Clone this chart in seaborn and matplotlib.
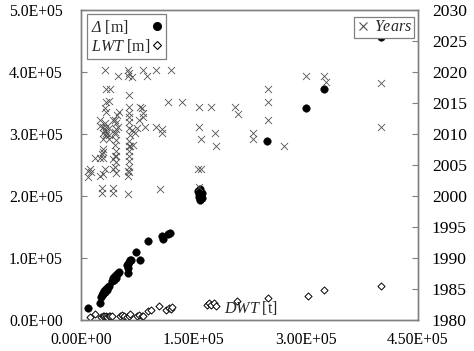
import numpy as np
import pandas as pd
import matplotlib
matplotlib.use("Agg")
import matplotlib.pyplot as plt
from matplotlib.ticker import FuncFormatter, MultipleLocator
from matplotlib.lines import Line2D
import seaborn as sns

# ---- data (DWT in thousands of tonnes) ----
delta_dwt_k = [9.4, 25, 27, 28, 29, 29, 31, 32, 32, 33, 35, 35, 36, 37,
               41, 43, 44, 44, 45, 47, 47, 48, 49, 51,
               61, 63, 63, 63, 64, 65, 67, 73, 79, 90, 108, 110, 116, 119,
               156, 157, 158, 159, 160, 161, 162, 159,
               249, 300, 325, 400]
delta_k = [19.5, 27.6, 37, 41, 44, 42, 47, 49, 45, 50, 52, 49, 54, 55,
           63, 67, 70, 65, 71, 73, 68, 75, 76, 78,
           88, 91, 84, 76, 94, 96, 97, 110, 96, 128, 135, 131, 138, 141,
           208, 203, 198, 193, 200, 205, 196, 212,
           288, 342, 373, 456]

lwt_dwt_k = [12, 19, 27, 29, 31, 33, 35, 37, 39, 41,
             52, 55, 58, 61, 64, 66, 75, 78, 81, 83,
             90, 94, 104, 114, 117, 120, 122,
             168, 171, 174, 177, 180, 208, 250, 303, 325, 400]
lwt_k = [5, 10, 5, 6, 7, 6, 5, 7, 6, 6,
         6, 8, 7, 5, 7, 9, 6, 8, 7, 6,
         14, 16, 23, 16, 20, 18, 21,
         25, 28, 24, 27, 22, 30, 36, 38, 48, 55]

years_dwt_k = [
    32, 49, 63, 64, 63, 68, 83, 88, 100, 120,
    34, 39, 64, 34, 37, 116, 135,
    158, 174, 206, 210, 230, 230,
    250, 250, 250, 271, 300, 325, 327, 400, 401,
    32, 33, 64, 64, 64, 79, 81, 83, 83, 48, 51,
    25, 25, 43, 45, 78,
    32, 30, 34, 37, 32, 29, 34, 33, 30, 38, 38,
    46, 50,
    47, 47, 46, 47, 46, 47, 46, 47, 46, 47,
    64, 64, 65, 64, 64, 64, 64, 64, 64, 64, 65,
    75, 86, 100, 108, 108, 68, 72,
    158, 160, 179, 180, 69,
    29, 28, 19, 25, 43, 47, 29, 29,
    12, 14, 32, 30, 25, 10, 43, 63, 63, 10,
    28, 28, 43, 43, 63, 105, 156, 160, 157]
years = [
    2020.3, 2019.3, 2020.3, 2019.8, 2019.3, 2019.2, 2020.3, 2019.3, 2020.3, 2020.3,
    2017.2, 2017.2, 2016.3, 2015.2, 2015.3, 2015.2, 2015.2,
    2014.3, 2014.3, 2014.3, 2013.3, 2010.2, 2009.2,
    2017.2, 2015.2, 2012.2, 2008.1, 2019.3, 2019.3, 2018.4, 2018.2, 2011.2,
    2014.2, 2013.6, 2014.3, 2013.4, 2012.7, 2014.3, 2014.2, 2013.4, 2012.7, 2013.1, 2013.6,
    2012.2, 2011.3, 2012.2, 2012.2, 2012.2,
    2011.7, 2011.2, 2011.2, 2011.0, 2010.7, 2010.2, 2010.2, 2009.8, 2009.2, 2009.9, 2009.2,
    2010.3, 2011.2,
    2011.7, 2010.8, 2010.0, 2009.1, 2008.2, 2007.3, 2006.5, 2005.5, 2004.7, 2003.7,
    2011.9, 2010.9, 2009.8, 2008.9, 2008.0, 2007.2, 2006.4, 2005.6, 2004.7, 2003.9, 2008.1,
    2010.9, 2011.2, 2011.2, 2010.8, 2010.2, 2010.7, 2010.2,
    2011.2, 2009.2, 2010.2, 2008.1, 2008.2,
    2007.6, 2006.8, 2006.2, 2006.2, 2006.0, 2006.5, 2007.1, 2006.2,
    2004.4, 2003.9, 2004.4, 2003.6, 2003.3, 2003.0, 2004.4, 2004.1, 2003.2, 2004.1,
    2001.3, 2000.5, 2001.3, 2000.5, 2000.3, 2001.2, 2004.3, 2004.3, 2001.5]

# ---- style ----
sns.set_theme(style="white")
plt.rcParams["font.family"] = ["Liberation Serif", "DejaVu Serif"]
plt.rcParams["mathtext.fontset"] = "custom"
plt.rcParams["mathtext.rm"] = "Liberation Serif:italic"
plt.rcParams["mathtext.it"] = "Liberation Serif:italic"
plt.rcParams["axes.unicode_minus"] = False

GRAY = "#808080"
XCOL = "#505050"

df_delta = pd.DataFrame({"dwt": np.array(delta_dwt_k) * 1000, "v": np.array(delta_k) * 1000})
df_lwt = pd.DataFrame({"dwt": np.array(lwt_dwt_k) * 1000, "v": np.array(lwt_k) * 1000})
df_year = pd.DataFrame({"dwt": np.array(years_dwt_k) * 1000, "year": years})

fig = plt.figure(figsize=(4.74, 3.51), dpi=100)
ax = fig.add_axes([81 / 474, 1 - 320 / 351, 337 / 474, 310 / 351])
ax2 = ax.twinx()

sns.scatterplot(data=df_year, x="dwt", y="year", ax=ax2, marker="x",
                color=XCOL, s=26, linewidth=0.6, zorder=2)
sns.scatterplot(data=df_lwt, x="dwt", y="v", ax=ax, marker="D",
                color="white", edgecolor="black", s=13, linewidth=0.7, zorder=3)
sns.scatterplot(data=df_delta, x="dwt", y="v", ax=ax, marker="o",
                color="black", edgecolor="black", s=30, linewidth=0.3, zorder=3)

ax.set_xlim(0, 4.5e5)
ax.set_ylim(0, 5e5)
ax2.set_ylim(1980, 2030)
ax.set_xlabel("")
ax.set_ylabel("")
ax2.set_ylabel("")

ax.xaxis.set_major_locator(MultipleLocator(1.5e5))
ax.yaxis.set_major_locator(MultipleLocator(1e5))
ax2.yaxis.set_major_locator(MultipleLocator(5))
ax.xaxis.set_major_formatter(FuncFormatter(lambda v, p: f"{v:.2E}"))
ax.yaxis.set_major_formatter(FuncFormatter(lambda v, p: f"{v:.1E}"))
ax2.yaxis.set_major_formatter(FuncFormatter(lambda v, p: f"{int(round(v))}"))

ax.tick_params(axis="x", direction="in", length=4, width=0.8, color=GRAY,
               labelsize=11.3, pad=9, labelcolor="black")
ax.tick_params(axis="y", direction="in", length=4, width=0.8, color=GRAY,
               labelsize=11.3, pad=13, labelcolor="black", right=False)
ax2.tick_params(axis="y", direction="in", length=4, width=0.8, color=GRAY,
                labelsize=12.6, pad=10, labelcolor="black")

for a in (ax, ax2):
    for sp in a.spines.values():
        sp.set_visible(True)
        sp.set_color(GRAY)
        sp.set_linewidth(1.0)
    a.grid(False)

ax.text(0.505, 0.04, r"$DWT$ [t]", transform=ax.transAxes, ha="center",
        va="center", fontsize=11.5, zorder=5)

h1 = [Line2D([], [], linestyle="none", marker="o", color="black", markersize=5.5),
      Line2D([], [], linestyle="none", marker="D", markerfacecolor="white",
             markeredgecolor="black", markeredgewidth=0.8, markersize=3.8)]
leg1 = ax2.legend(h1, [r"$\Delta$ [m]", r"$LWT$ [m]"], loc="upper left",
                  bbox_to_anchor=(0.017, 0.987), borderaxespad=0, markerfirst=False,
                  fontsize=11.5, frameon=True, fancybox=False, framealpha=1,
                  edgecolor=GRAY, borderpad=0.25, labelspacing=0.05,
                  handletextpad=0.15, handlelength=0.6)
leg1.get_frame().set_linewidth(0.9)
# left-align the label texts while keeping the markers in a right-hand column
col = leg1._legend_handle_box.get_children()[0]
col.align = "left"
rows = col.get_children()
txt_areas = [r.get_children()[0] for r in rows]
fig.canvas.draw()
renderer = fig.canvas.get_renderer()
widths = [t._text.get_window_extent(renderer).width for t in txt_areas]
wmax = max(widths)
for r, t, w in zip(rows, txt_areas, widths):
    r.sep = r.sep + (wmax - w) * 72.0 / fig.dpi
ax2.add_artist(leg1)

h2 = [Line2D([], [], linestyle="none", marker="x", color=XCOL,
             markersize=5.5, markeredgewidth=0.8)]
leg2 = ax2.legend(h2, [r"$Years$"], loc="upper right",
                  bbox_to_anchor=(0.989, 0.978), borderaxespad=0, markerfirst=True,
                  fontsize=11.5, frameon=True, fancybox=False, framealpha=1,
                  edgecolor=GRAY, borderpad=0.15, handletextpad=0.3,
                  handlelength=0.8)
leg2.get_frame().set_linewidth(0.9)

fig.savefig("out.png", dpi=100)
